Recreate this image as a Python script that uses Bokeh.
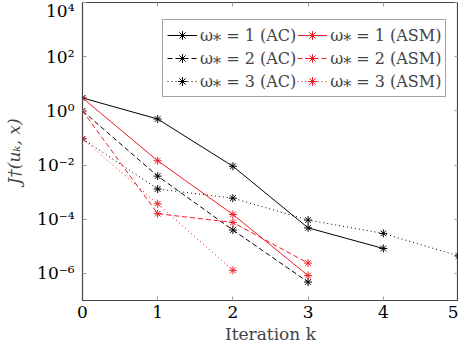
from bokeh.plotting import figure
from bokeh.models import (FixedTicker, CustomJSTickFormatter, Legend, LegendItem,
                          LogAxis, LinearAxis, Range1d)
from bokeh.embed import file_html
from bokeh.resources import INLINE

# Data
k_ac1 = [0, 1, 2, 3, 4]
ac1 = [3.0, 0.5, 9e-3, 4.8e-5, 8.3e-6]
k_ac2 = [0, 1, 2, 3]
ac2 = [1.0, 3.9e-3, 4.0e-5, 4.8e-7]
k_ac3 = [0, 1, 2, 3, 4, 5]
ac3 = [0.093, 1.3e-3, 6.0e-4, 9.3e-5, 3.0e-5, 4.4e-6]
k_asm1 = [0, 1, 2, 3]
asm1 = [3.0, 1.44e-2, 1.5e-4, 8.3e-7]
k_asm2 = [0, 1, 2, 3]
asm2 = [1.0, 1.6e-4, 7.6e-5, 2.4e-6]
k_asm3 = [0, 1, 2]
asm3 = [0.093, 3.7e-4, 1.3e-6]

x_ticks = [0, 1, 2, 3, 4, 5]
y_ticks = [1e-6, 1e-4, 1e-2, 1e0, 1e2, 1e4]

labels_ac = ["ω⁎ = 1 (AC)", "ω⁎ = 2 (AC)", "ω⁎ = 3 (AC)"]
labels_asm = ["ω⁎ = 1 (ASM)", "ω⁎ = 2 (ASM)", "ω⁎ = 3 (ASM)"]

FONT = "DejaVu Serif"
RED = "#ee1c25"
FRAME = "#444444"

p = figure(width=458, height=346, y_axis_type="log",
           x_range=Range1d(0, 5), y_range=Range1d(1e-7, 1e4),
           output_backend="svg", toolbar_location=None,
           min_border_left=82, min_border_right=0, min_border_top=2,
           min_border_bottom=36)
p.xgrid.visible = False
p.ygrid.visible = False
p.outline_line_color = FRAME
p.outline_line_width = 1.2
p.background_fill_color = "white"
p.border_fill_color = "white"

dashes = ["solid", "5 3", "1 3"]
ac_x = [k_ac1, k_ac2, k_ac3]
ac_y = [ac1, ac2, ac3]
asm_x = [k_asm1, k_asm2, k_asm3]
asm_y = [asm1, asm2, asm3]

items = []
for xs_list, ys_list, col, labs in [(ac_x, ac_y, "black", labels_ac),
                                    (asm_x, asm_y, RED, labels_asm)]:
    for xs, ys, dash, lab in zip(xs_list, ys_list, dashes, labs):
        r1 = p.line(xs, ys, line_color=col, line_dash=dash, line_width=1)
        r2 = p.scatter(xs, ys, marker="asterisk", size=8, line_color=col, line_width=1)
        items.append(LegendItem(label=lab, renderers=[r1, r2]))

formatter = CustomJSTickFormatter(code="""
const sup = {'-':'⁻','0':'⁰','1':'¹','2':'²','3':'³','4':'⁴','5':'⁵','6':'⁶','7':'⁷','8':'⁸','9':'⁹'};
const e = Math.round(Math.log10(tick));
return '10' + String(e).split('').map(c => sup[c]).join('');
""")

for ax in p.yaxis:
    ax.ticker = FixedTicker(ticks=y_ticks)
    ax.formatter = formatter
for ax in p.xaxis:
    ax.ticker = FixedTicker(ticks=x_ticks)

for ax in list(p.xaxis) + list(p.yaxis):
    ax.major_tick_in = 4
    ax.major_tick_out = 0
    ax.minor_tick_line_color = None
    ax.axis_line_color = FRAME
    ax.major_tick_line_color = "#999999"
    ax.major_label_text_font = FONT
    ax.major_label_text_font_size = "17px"
    ax.major_label_text_color = "black"
    ax.axis_label_text_font = FONT
    ax.axis_label_text_font_size = "17px"
    ax.axis_label_text_font_style = "normal"

p.xaxis.axis_label = "Iteration k"
p.yaxis.axis_label = "J†(uₖ, x)"
p.yaxis.axis_label_text_font_style = "italic"
p.xaxis.major_label_standoff = 5
p.xaxis.axis_label_standoff = 3
p.yaxis.major_label_standoff = 8
p.yaxis.axis_label_standoff = 10

# Mirrored ticks on top and right (no labels)
blank = CustomJSTickFormatter(code="return '';")
top = LinearAxis(ticker=FixedTicker(ticks=x_ticks), formatter=blank,
                 major_tick_in=4, major_tick_out=0, minor_tick_line_color=None,
                 axis_line_color=FRAME, major_tick_line_color="#999999",
                 major_label_standoff=0, major_label_text_font_size="1px")
right = LogAxis(ticker=FixedTicker(ticks=y_ticks), formatter=blank,
                major_tick_in=4, major_tick_out=0, minor_tick_line_color=None,
                axis_line_color=FRAME, major_tick_line_color="#999999",
                major_label_standoff=0, major_label_text_font_size="1px")
p.add_layout(top, "above")
p.add_layout(right, "right")

legend = Legend(items=items, location=(80, 203), ncols=2)
legend.label_text_font = FONT
legend.label_text_font_size = "16px"
legend.label_height = 22
legend.glyph_width = 30
legend.glyph_height = 22
legend.spacing = 1
legend.padding = 4
legend.margin = 0
legend.label_standoff = 3
legend.border_line_color = FRAME
legend.border_line_width = 1
legend.background_fill_alpha = 1
p.add_layout(legend)

open("out.html", "w").write(file_html(p, INLINE))
